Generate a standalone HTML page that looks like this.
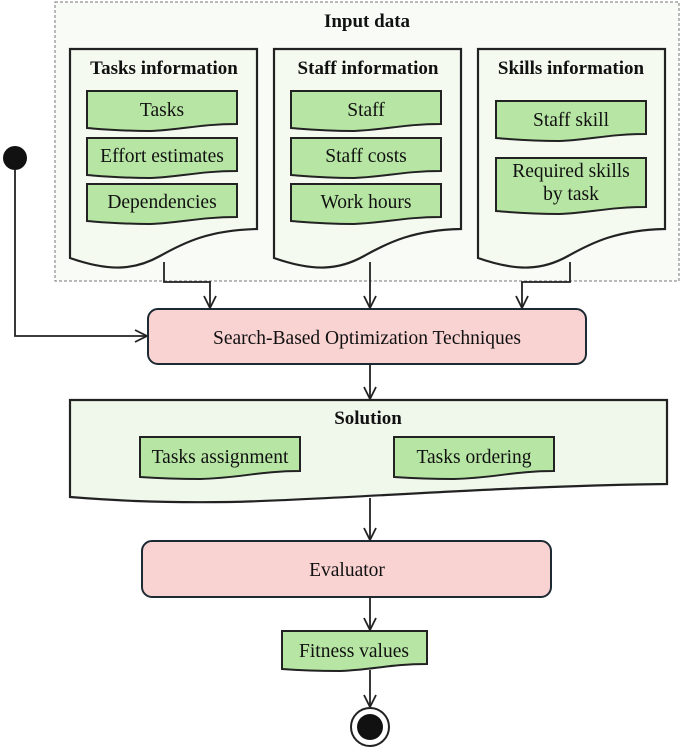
<!DOCTYPE html><html><head><style>body{margin:0;background:#fff}svg{display:block}text{font-family:"Liberation Serif",serif;fill:#111}</style></head><body>
<svg width="685" height="749" viewBox="0 0 685 749" xmlns="http://www.w3.org/2000/svg">
<defs><marker id="r" markerWidth="14" markerHeight="14" refX="13" refY="7" orient="auto" markerUnits="userSpaceOnUse" viewBox="0 0 14 14"><path d="M1,1 L13,7 L1,13" fill="none" stroke="#222" stroke-width="1.8"/></marker></defs>
<rect x="55" y="2" width="624" height="279" fill="#f8fbf6" stroke="#777" stroke-dasharray="3,2"/>
<text x="367" y="27" font-size="19" font-weight="bold" text-anchor="middle">Input data</text>
<g stroke="#222" stroke-width="2.2">
<path d="M70,49 H257 V229 C210,230 185,242 160,256 C135,270 110,272 70,258 Z" fill="#f4faf0"/>
<path d="M274,49 H461 V229 C414,230 389,242 364,256 C339,270 314,272 274,258 Z" fill="#f4faf0"/>
<path d="M478,49 H665 V229 C618,230 593,242 568,256 C543,270 518,272 478,258 Z" fill="#f4faf0"/>
<path d="M70,400 H667 V484 C500,486 330,500 230,502 C150,503 110,500 70,497 Z" fill="#f0f8ec"/>
</g>
<g font-size="19" font-weight="bold" text-anchor="middle">
<text x="164" y="74">Tasks information</text><text x="368" y="74">Staff information</text><text x="571" y="74">Skills information</text><text x="368" y="424">Solution</text></g>
<g stroke="#222" stroke-width="2" fill="#b7e6a4">
<path d="M87,91 H237 V124 C200,124 180,130 150,131 C120,131 100,129 87,128 Z"/>
<path d="M87,138 H237 V171 C200,171 180,177 150,178 C120,178 100,176 87,175 Z"/>
<path d="M87,184 H237 V217 C200,217 180,223 150,224 C120,224 100,222 87,221 Z"/>
<path d="M291,91 H441 V124 C404,124 384,130 354,131 C324,131 304,129 291,128 Z"/>
<path d="M291,138 H441 V171 C404,171 384,177 354,178 C324,178 304,176 291,175 Z"/>
<path d="M291,184 H441 V217 C404,217 384,223 354,224 C324,224 304,222 291,221 Z"/>
<path d="M496,101 H646 V134 C609,134 589,140 559,141 C529,141 509,139 496,138 Z"/>
<path d="M496,158 H646 V207 C609,207 589,213 559,214 C529,214 509,212 496,211 Z"/>
<path d="M140,437 H300 V471 C260,471 240,478 200,479 C170,479 155,478 140,477 Z"/>
<path d="M394,437 H554 V471 C514,471 494,478 454,479 C424,479 409,478 394,477 Z"/>
<path d="M282,631 H427 V664 C390,664 372,670 340,671 C310,671 295,670 282,669 Z"/>
</g>
<g font-size="19.5" text-anchor="middle">
<text x="162" y="116">Tasks</text><text x="162" y="162">Effort estimates</text><text x="162" y="208">Dependencies</text>
<text x="366" y="116">Staff</text><text x="366" y="162">Staff costs</text><text x="366" y="208">Work hours</text>
<text x="571" y="126">Staff skill</text><text x="571" y="177">Required skills</text><text x="571" y="200">by task</text>
<text x="220" y="463">Tasks assignment</text><text x="474" y="463">Tasks ordering</text>
<text x="354" y="657">Fitness values</text></g>
<rect x="148" y="309" width="438" height="55" rx="10" fill="#f9d2d2" stroke="#1e2a33" stroke-width="2"/>
<text x="367" y="344" font-size="19.5" text-anchor="middle">Search-Based Optimization Techniques</text>
<rect x="142" y="541" width="409" height="56" rx="10" fill="#f9d2d2" stroke="#1e2a33" stroke-width="2"/>
<text x="347" y="576" font-size="19.5" text-anchor="middle">Evaluator</text>
<g stroke="#222" stroke-width="1.8" fill="none">
<path d="M164,262 V282 H210 V308" marker-end="url(#r)"/>
<path d="M370,262 V308" marker-end="url(#r)"/>
<path d="M570,262 V282 H522 V308" marker-end="url(#r)"/>
<path d="M15,170 V336 H147" marker-end="url(#r)"/>
<path d="M370,364 V399" marker-end="url(#r)"/>
<path d="M370,498 V540" marker-end="url(#r)"/>
<path d="M370,597 V630" marker-end="url(#r)"/>
<path d="M370,670 V707" marker-end="url(#r)"/>
</g>
<circle cx="15" cy="158" r="12" fill="#111"/>
<circle cx="370" cy="727" r="19" fill="#fff" stroke="#222" stroke-width="2"/>
<circle cx="370" cy="727" r="13" fill="#111"/>
</svg></body></html>
